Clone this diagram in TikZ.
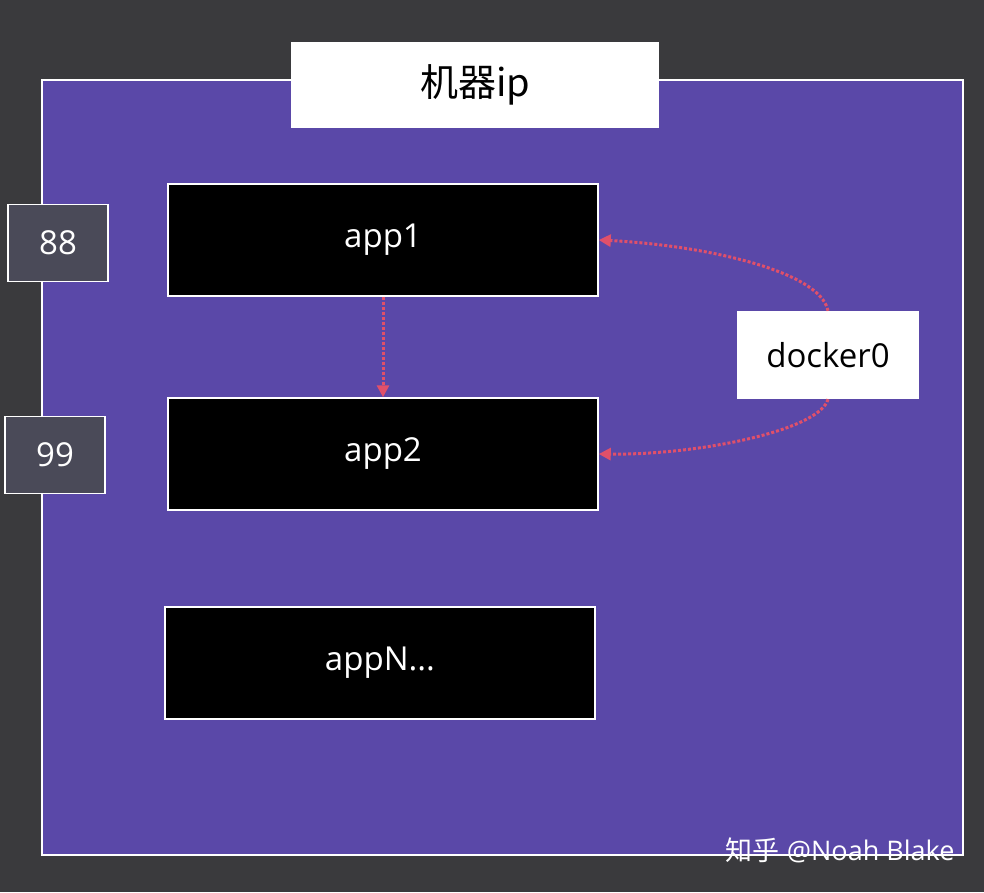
\documentclass[tikz,border=0pt]{standalone}
\usepackage{fontspec}
\setmainfont{Open Sans}
\newfontfamily\cjk{Noto Sans CJK SC}
\usetikzlibrary{arrows.meta}
\definecolor{bg}{HTML}{3A3A3D}
\definecolor{purp}{HTML}{5A48A8}
\definecolor{port}{HTML}{4A4A58}
\definecolor{arr}{HTML}{E0506A}
\tikzset{
  appbox/.style={draw=white,line width=1.5pt,fill=black,text=white,minimum width=430pt,minimum height=112pt,font=\fontsize{33}{38}\selectfont},
  portbox/.style={draw=white,line width=1.5pt,fill=port,text=white,minimum width=100pt,minimum height=77pt,font=\fontsize{33}{38}\selectfont},
  conn/.style={draw=arr,line width=3pt,dotted,-{Triangle[length=12pt,width=12pt]}}
}
\begin{document}
\begin{tikzpicture}[x=1pt,y=-1pt]
\fill[bg] (0,0) rectangle (984,892);
\fill[purp,draw=white,line width=1.5pt] (42,80) rectangle (963,855);
\node[fill=white,minimum width=368pt,minimum height=86pt,font=\fontsize{38}{44}\selectfont] (title) at (475,85) {\cjk 机器ip};
\node[appbox] (app1) at (383,240) {app1};
\node[appbox] (app2) at (383,454) {app2};
\node[appbox] (appN) at (380,663) {appN...};
\node[portbox] (p88) at (58,243) {88};
\node[portbox] (p99) at (55,455) {99};
\node[fill=white,minimum width=182pt,minimum height=88pt,font=\fontsize{33}{38}\selectfont] (dock) at (828,355) {docker0};
\draw[conn] (app1.south) -- (app2.north);
\draw[conn] (dock.north) .. controls (820,270) and (700,245) .. (app1.east);
\draw[conn] (dock.south) .. controls (820,430) and (700,455) .. (app2.east);
\node[text=white,font=\fontsize{27}{30}\selectfont,anchor=east] (wm) at (958,850) {{\cjk 知乎} @Noah Blake};
\end{tikzpicture}
\end{document}
